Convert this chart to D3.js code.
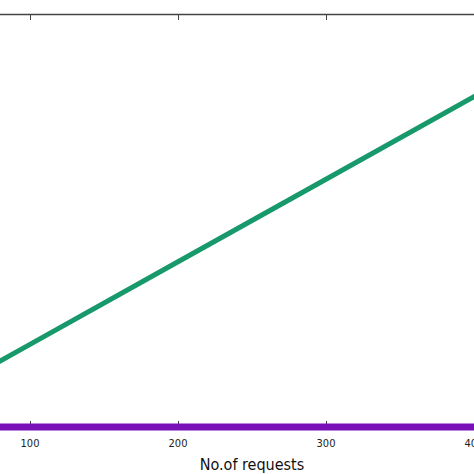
<!DOCTYPE html>
<html>
<head>
<meta charset="utf-8">
<script src="https://cdn.jsdelivr.net/npm/d3@7"></script>
<style>
  html, body { margin: 0; padding: 0; background: #fff; }
  svg { display: block; }
</style>
</head>
<body>
<svg id="chart" width="474" height="474" viewBox="0 0 474 474"></svg>
<script>
// values
const requests = [0, 100, 200, 300, 400, 500];
const greenSeries = [0, 10, 20, 30, 40, 50];
const purpleSeries = [0, 0, 0, 0, 0, 0];
const xTicks = [100, 200, 300, 400];

const svg = d3.select("#chart");

// the picture is a crop: 100 sits at x=30, 400 at the right edge
const x = d3.scaleLinear().domain([0, 500]).range([-118, 622]);
const y = d3.scaleLinear().domain([0, 50]).range([427, 14]);

// top frame axis with inward ticks
svg.append("g")
    .attr("transform", `translate(0,${y(50)})`)
    .call(d3.axisBottom(x).tickValues(xTicks).tickSize(6).tickFormat(""))
    .call(g => g.select(".domain").attr("stroke", "#444").attr("stroke-width", 1.3))
    .call(g => g.selectAll(".tick line").attr("stroke", "#444"));

// bottom axis, ticks point up into the plot
const bottom = svg.append("g")
    .attr("transform", `translate(0,${y(0)})`)
    .call(d3.axisTop(x).tickValues(xTicks).tickSize(6).tickFormat(""))
    .call(g => g.select(".domain").attr("stroke", "#444"))
    .call(g => g.selectAll(".tick line").attr("stroke", "#444"));

svg.append("g")
    .selectAll("text")
    .data(xTicks)
    .enter()
    .append("text")
    .attr("x", d => x(d))
    .attr("y", 447)
    .attr("text-anchor", "middle")
    .attr("font-family", "'Liberation Sans Narrow', 'DejaVu Sans Condensed', sans-serif")
    .attr("font-size", 11)
    .attr("fill", "#222")
    .text(d => d);

const line = d3.line()
    .x((d, i) => x(requests[i]))
    .y(d => y(d));

svg.append("path")
    .datum(greenSeries)
    .attr("fill", "none")
    .attr("stroke", "#17996c")
    .attr("stroke-width", 5)
    .attr("d", line);

svg.append("path")
    .datum(purpleSeries)
    .attr("fill", "none")
    .attr("stroke", "#7a10b8")
    .attr("stroke-width", 7)
    .attr("d", line);

svg.append("text")
    .attr("x", 252)
    .attr("y", 470)
    .attr("text-anchor", "middle")
    .attr("font-family", "'Liberation Sans Narrow', 'DejaVu Sans Condensed', sans-serif")
    .attr("font-size", 16)
    .attr("fill", "#111")
    .text("No.of requests");
</script>
</body>
</html>
